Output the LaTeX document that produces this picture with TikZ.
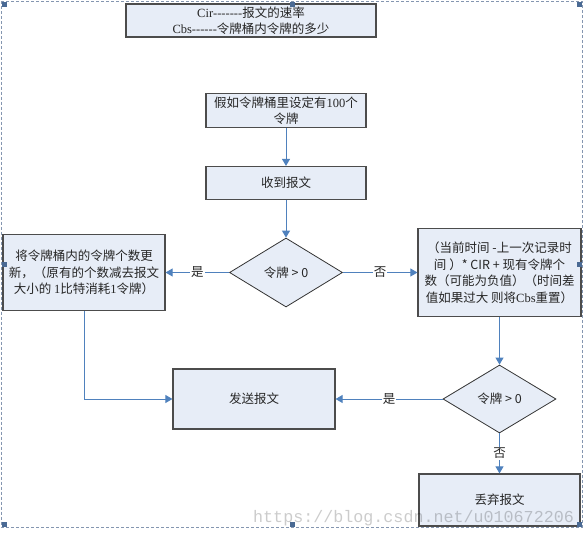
\documentclass[tikz,border=0pt]{standalone}
\usepackage{fontspec}
\setmainfont{Noto Sans CJK SC}
\newfontfamily\lat{Liberation Serif}
\newfontfamily\mono{Liberation Mono}
\usepackage{tikz}
\usetikzlibrary{arrows.meta,shapes.geometric}
\definecolor{boxfill}{RGB}{231,237,247}
\definecolor{flowblue}{RGB}{79,129,189}
\definecolor{framegray}{RGB}{132,150,176}
\definecolor{handleblue}{RGB}{74,106,148}

\tikzset{
  box/.style={draw=black!70, fill=boxfill, line width=1.2pt, inner sep=0pt,
    align=center, text=black!85},
  cond/.style={diamond, aspect=1.6, draw=black!80, fill=boxfill, line width=0.8pt,
    inner sep=0pt, text=black!85},
  lbl/.style={fill=white, inner sep=1pt, text=black!85},
  link/.style={draw=flowblue, line width=1pt},
}
\newcommand\dd{\mbox{-}}

\begin{document}
\begin{tikzpicture}[x=1pt, y=-1pt, font=\fontsize{12.5}{16.5}\selectfont,
    >={Triangle[length=7pt,width=8pt]}]
  \def\colx{286}
  \def\rcol{499.5}

  \useasboundingbox (0,0) rectangle (585,535);
  \draw[framegray, line width=0.8pt, dash pattern=on 3pt off 2pt] (1.5,1.5) rectangle (582,527);

  \node[box, minimum width=250pt, minimum height=33pt] (legend) at (251,20.5)
    {{\lat Cir\dd\dd\dd\dd\dd\dd\dd}报文的速率\\{\lat Cbs\dd\dd\dd\dd\dd\dd}令牌桶内令牌的多少};
  \node[box, minimum width=160pt, minimum height=34pt] (init) at (\colx,110.5)
    {假如令牌桶里设定有{\lat 100}个\\令牌};
  \node[box, minimum width=160pt, minimum height=33pt] (recv) at (\colx,183) {收到报文};
  \node[cond, minimum width=113pt, minimum height=69pt] (chk1) at (\colx,272.5) {令牌 > 0};
  \node[box, minimum width=162pt, minimum height=76pt] (upd) at (84,272.5)
    {将令牌桶内的令牌个数更\\新，（原有的个数减去报文\\大小的 {\lat 1}比特消耗{\lat 1}令牌）};
  \node[box, minimum width=163pt, minimum height=88pt] (calc) at (\rcol,272.5)
    {（当前时间 -上一次记录时\\间 ）* CIR + 现有令牌个\\数（可能为负值）（时间差\\值如果过大 则将{\lat Cbs}重置）};
  \node[box, minimum width=162pt, minimum height=60pt] (send) at (254,399) {发送报文};
  \node[cond, minimum width=113pt, minimum height=68pt] (chk2) at (\rcol,399) {令牌 > 0};
  \node[box, minimum width=161pt, minimum height=52pt] (drop) at (\rcol,500) {丢弃报文};

  \draw[link, ->] (init) -- (recv);
  \draw[link, ->] (recv) -- (chk1);
  \draw[link, ->] (chk1) -- node[lbl] {是} (upd);
  \draw[link, ->] (chk1) -- node[lbl] {否} (calc);
  \draw[link, ->] (upd) |- (send);
  \draw[link, ->] (calc) -- (chk2);
  \draw[link, ->] (chk2) -- node[lbl] {是} (send);
  \draw[link, ->] (chk2) -- node[lbl] {否} (drop);

  % selection handles
  \foreach \px/\py in {4.5/4.5, 292.5/4.5, 579.5/4.5, 4.5/264, 579.5/264,
                       4.5/524.5, 292.5/524.5, 579.5/524.5}
    \fill[handleblue] ({\px-2.5},{\py-2.5}) rectangle ++(5,5);

  \node[text=black, opacity=0.2, font=\mono\fontsize{16.7}{17}\selectfont,
    anchor=base west, inner sep=0pt] (mark) at (253,522) {https://blog.csdn.net/u010672206};
\end{tikzpicture}
\end{document}
